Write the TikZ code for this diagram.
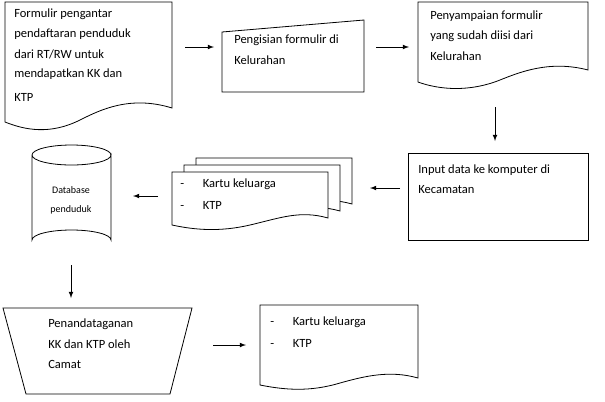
\documentclass[tikz,border=0pt]{standalone}
\usepackage{fontspec}
\setmainfont{Carlito}
\begin{document}
\begin{tikzpicture}[x=0.75pt,y=-0.75pt,
  shp/.style={draw=black,line width=0.6pt,fill=white},
  arr/.style={-latex,line width=0.6pt},
  txt/.style={anchor=west,inner sep=0pt,font=\fontsize{9.4}{10}\selectfont},
  lbl/.style={inner sep=0pt}]
\useasboundingbox (0,0) rectangle (605,401);
% doc 1
\draw[shp] (5,2) -- (172,2) -- (172,108) .. controls (130,95) and (100,110) .. (80,120) .. controls (50,135) and (25,130) .. (5,122) -- cycle;
\node[txt] (t1) at (14,14) {Formulir pengantar};
\node[txt] at (14,34) {pendaftaran penduduk};
\node[txt] at (14,54) {dari RT/RW untuk};
\node[txt] at (14,74) {mendapatkan KK dan};
\node[txt] at (14,97) {KTP};
% manual input
\draw[shp] (222,32) -- (364,20) -- (364,92) -- (222,92) -- cycle;
\node[txt] (t2) at (234,40) {Pengisian formulir di};
\node[txt] at (234,60) {Kelurahan};
% doc 3
\draw[shp] (418,2) -- (588,2) -- (588,70) .. controls (550,60) and (520,72) .. (500,80) .. controls (470,92) and (440,90) .. (418,82) -- cycle;
\node[txt] (t3) at (430,16) {Penyampaian formulir};
\node[txt] at (430,36) {yang sudah diisi dari};
\node[txt] at (430,56) {Kelurahan};
% arrows top
\coordinate (a1) at (185,47); \coordinate (b1) at (214,47);
\draw[arr] (a1) -- (b1);
\coordinate (a2) at (376,47); \coordinate (b2) at (409,47);
\draw[arr] (a2) -- (b2);
\coordinate (a3) at (495,107); \coordinate (b3) at (495,141);
\draw[arr] (a3) -- (b3);
% rect
\draw[shp] (408,153) rectangle (588,240);
\node[txt] (t4) at (418,170) {Input data ke komputer di};
\node[txt] at (418,190) {Kecamatan};
\coordinate (a4) at (400,188); \coordinate (b4) at (370,188);
\draw[arr] (a4) -- (b4);
% multi doc
\foreach \dx/\dy in {24/-14,12/-7,0/0}{
\draw[shp] (172+\dx,172+\dy) -- (328+\dx,172+\dy) -- (328+\dx,218+\dy) .. controls (300+\dx,210+\dy) and (280+\dx,218+\dy) .. (250+\dx,225+\dy) .. controls (220+\dx,232+\dy) and (195+\dx,230+\dy) .. (172+\dx,225+\dy) -- cycle;}
\node[txt] (t5) at (180,184) {-\hspace{14pt}Kartu keluarga};
\node[txt] at (180,205) {-\hspace{14pt}KTP};
\coordinate (a5) at (158,196); \coordinate (b5) at (133,196);
\draw[arr] (a5) -- (b5);
% cylinder
\draw[shp] (32,155) -- (32,240) arc[start angle=180,end angle=360,x radius=39.5,y radius=10] -- (111,155) arc[start angle=0,end angle=180,x radius=39.5,y radius=10];
\draw[line width=0.6pt] (32,155) arc[start angle=180,end angle=360,x radius=39.5,y radius=10];
\node[lbl,font=\fontsize{7.5}{9}\selectfont] (t6) at (71,190) {Database};
\node[lbl,font=\fontsize{7.5}{9}\selectfont] at (71,210) {penduduk};
\coordinate (a6) at (71,265); \coordinate (b6) at (71,298);
\draw[arr] (a6) -- (b6);
% trapezoid
\draw[shp] (3,308) -- (192,308) -- (170,394) -- (26,394) -- cycle;
\node[txt] (t7) at (48,324) {Penandataganan};
\node[txt] at (48,344) {KK dan KTP oleh};
\node[txt] at (48,364) {Camat};
\coordinate (a7) at (213,345); \coordinate (b7) at (246,345);
\draw[arr] (a7) -- (b7);
% doc 8
\draw[shp] (260,305) -- (418,305) -- (418,378) .. controls (390,370) and (365,376) .. (340,383) .. controls (310,392) and (285,390) .. (260,385) -- cycle;
\node[txt] (t8) at (270,322) {-\hspace{14pt}Kartu keluarga};
\node[txt] at (270,343) {-\hspace{14pt}KTP};
\end{tikzpicture}
\end{document}
